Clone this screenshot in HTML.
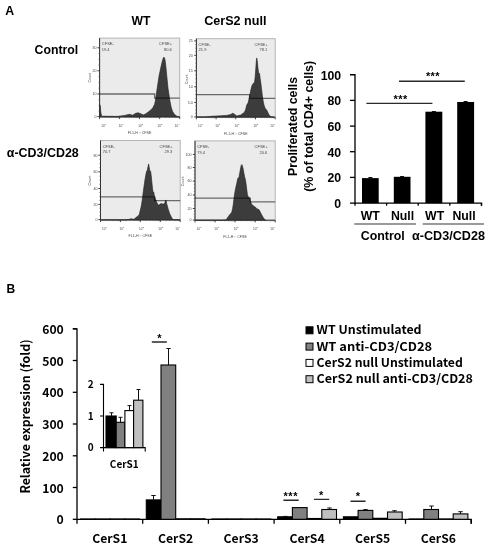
<!DOCTYPE html>
<html><head><meta charset="utf-8"><style>
html,body{margin:0;padding:0;background:#fff;}
svg{display:block;}
.a{font-family:"Liberation Sans", Arial, sans-serif;font-weight:bold;fill:#000;}
.k{font-family:"Noto Sans CJK KR", "Liberation Sans", sans-serif;font-weight:bold;fill:#000;}
.t{font-family:"Liberation Sans", Arial, sans-serif;fill:#444;}
</style></head><body>
<svg width="491" height="550" viewBox="0 0 491 550">
<text x="5.2" y="15.3" class="a" font-size="12.3">A</text>
<text x="141.1" y="24.9" class="a" font-size="12.2" text-anchor="middle">WT</text>
<text x="235.3" y="25.0" class="a" font-size="12.6" text-anchor="middle">CerS2 null</text>
<text x="34.5" y="54.4" class="a" font-size="12.3">Control</text>
<text x="6.8" y="157.1" class="a" font-size="12.45">α-CD3/CD28</text>
<rect x="99.6" y="38.1" width="80.1" height="78.8" fill="#ebebeb" stroke="#b4b4b4" stroke-width="1"/>
<path d="M99.6,116.9L99.6,104.3L100.3,106L100.8,112L101.6,116.2L117.3,116.4L124.5,115.4L129.5,114.3L132.6,115.2L135.7,113.3L138.2,112.8L140.8,113.8L143.3,114.9L145.8,113.8L147.64,112.42L150.19,110.51L152.74,107.96L154.65,104.14L155.29,100.96L157.2,88.22L159.11,75.48L161.02,66.56L161.91,62.74L163.18,58.28L163.95,57.01L164.84,58.92L165.48,62.74L166.75,75.48L168.03,88.22L169.94,100.96L171.21,107.32L172.48,111.15L174.39,114.33L176.94,116.24L179.49,117.13L179.49,116.9Z" fill="#3c3c3c" stroke="#222" stroke-width="0.6" stroke-linejoin="round"/>
<path d="M99.6,38.1 V116.9 H179.7" fill="none" stroke="#333" stroke-width="1"/>
<path d="M97.39999999999999,47.8H99.6" stroke="#333" stroke-width="0.9"/>
<text x="96.4" y="49.1" class="t" font-size="3.6" text-anchor="end">30</text>
<path d="M98.39999999999999,53.5H99.6" stroke="#555" stroke-width="0.6"/>
<path d="M98.39999999999999,59.3H99.6" stroke="#555" stroke-width="0.6"/>
<path d="M98.39999999999999,65.0H99.6" stroke="#555" stroke-width="0.6"/>
<path d="M97.39999999999999,70.8H99.6" stroke="#333" stroke-width="0.9"/>
<text x="96.4" y="72.1" class="t" font-size="3.6" text-anchor="end">20</text>
<path d="M98.39999999999999,76.6H99.6" stroke="#555" stroke-width="0.6"/>
<path d="M98.39999999999999,82.4H99.6" stroke="#555" stroke-width="0.6"/>
<path d="M98.39999999999999,88.2H99.6" stroke="#555" stroke-width="0.6"/>
<path d="M97.39999999999999,94.0H99.6" stroke="#333" stroke-width="0.9"/>
<text x="96.4" y="95.3" class="t" font-size="3.6" text-anchor="end">10</text>
<path d="M98.39999999999999,99.7H99.6" stroke="#555" stroke-width="0.6"/>
<path d="M98.39999999999999,105.3H99.6" stroke="#555" stroke-width="0.6"/>
<path d="M98.39999999999999,110.9H99.6" stroke="#555" stroke-width="0.6"/>
<path d="M97.39999999999999,116.6H99.6" stroke="#333" stroke-width="0.9"/>
<text x="96.4" y="117.9" class="t" font-size="3.6" text-anchor="end">0</text>
<path d="M99.6,116.9v2.2" stroke="#333" stroke-width="0.9"/>
<text x="103.6" y="126.5" class="t" font-size="3.1" text-anchor="middle">10<tspan dy="-1.4" font-size="2.4">0</tspan></text>
<path d="M105.6,116.9v1.2" stroke="#555" stroke-width="0.5"/>
<path d="M109.2,116.9v1.2" stroke="#555" stroke-width="0.5"/>
<path d="M111.7,116.9v1.2" stroke="#555" stroke-width="0.5"/>
<path d="M113.6,116.9v1.2" stroke="#555" stroke-width="0.5"/>
<path d="M115.2,116.9v1.2" stroke="#555" stroke-width="0.5"/>
<path d="M116.5,116.9v1.2" stroke="#555" stroke-width="0.5"/>
<path d="M117.7,116.9v1.2" stroke="#555" stroke-width="0.5"/>
<path d="M118.7,116.9v1.2" stroke="#555" stroke-width="0.5"/>
<path d="M119.6,116.9v2.2" stroke="#333" stroke-width="0.9"/>
<text x="121.2" y="126.5" class="t" font-size="3.1" text-anchor="middle">10<tspan dy="-1.4" font-size="2.4">1</tspan></text>
<path d="M125.7,116.9v1.2" stroke="#555" stroke-width="0.5"/>
<path d="M129.2,116.9v1.2" stroke="#555" stroke-width="0.5"/>
<path d="M131.7,116.9v1.2" stroke="#555" stroke-width="0.5"/>
<path d="M133.6,116.9v1.2" stroke="#555" stroke-width="0.5"/>
<path d="M135.2,116.9v1.2" stroke="#555" stroke-width="0.5"/>
<path d="M136.5,116.9v1.2" stroke="#555" stroke-width="0.5"/>
<path d="M137.7,116.9v1.2" stroke="#555" stroke-width="0.5"/>
<path d="M138.7,116.9v1.2" stroke="#555" stroke-width="0.5"/>
<path d="M139.6,116.9v2.2" stroke="#333" stroke-width="0.9"/>
<text x="140.7" y="126.5" class="t" font-size="3.1" text-anchor="middle">10<tspan dy="-1.4" font-size="2.4">2</tspan></text>
<path d="M145.7,116.9v1.2" stroke="#555" stroke-width="0.5"/>
<path d="M149.2,116.9v1.2" stroke="#555" stroke-width="0.5"/>
<path d="M151.7,116.9v1.2" stroke="#555" stroke-width="0.5"/>
<path d="M153.6,116.9v1.2" stroke="#555" stroke-width="0.5"/>
<path d="M155.2,116.9v1.2" stroke="#555" stroke-width="0.5"/>
<path d="M156.6,116.9v1.2" stroke="#555" stroke-width="0.5"/>
<path d="M157.7,116.9v1.2" stroke="#555" stroke-width="0.5"/>
<path d="M158.8,116.9v1.2" stroke="#555" stroke-width="0.5"/>
<path d="M159.7,116.9v2.2" stroke="#333" stroke-width="0.9"/>
<text x="160.0" y="126.5" class="t" font-size="3.1" text-anchor="middle">10<tspan dy="-1.4" font-size="2.4">3</tspan></text>
<path d="M165.7,116.9v1.2" stroke="#555" stroke-width="0.5"/>
<path d="M169.2,116.9v1.2" stroke="#555" stroke-width="0.5"/>
<path d="M171.7,116.9v1.2" stroke="#555" stroke-width="0.5"/>
<path d="M173.7,116.9v1.2" stroke="#555" stroke-width="0.5"/>
<path d="M175.3,116.9v1.2" stroke="#555" stroke-width="0.5"/>
<path d="M176.6,116.9v1.2" stroke="#555" stroke-width="0.5"/>
<path d="M177.8,116.9v1.2" stroke="#555" stroke-width="0.5"/>
<path d="M178.8,116.9v1.2" stroke="#555" stroke-width="0.5"/>
<path d="M179.7,116.9v2.2" stroke="#333" stroke-width="0.9"/>
<text x="177.1" y="126.5" class="t" font-size="3.1" text-anchor="middle">10<tspan dy="-1.4" font-size="2.4">4</tspan></text>
<text x="139.6" y="134.4" class="t" font-size="3.6" text-anchor="middle">FL1-H :: CFSE</text>
<text transform="translate(90.7,77.8) rotate(-90)" class="t" font-size="3.6" text-anchor="middle">Count</text>
<path d="M99.6,94.0H154.6V98.2H179.7" fill="none" stroke="#000" stroke-opacity="0.55" stroke-width="1.3"/>
<text x="101.8" y="45.2" class="t" font-size="4">CFSE-</text>
<text x="101.8" y="50.7" class="t" font-size="4">19.4</text>
<text x="172.1" y="45.2" class="t" font-size="4" text-anchor="end">CFSE+</text>
<text x="171.8" y="50.7" class="t" font-size="4" text-anchor="end">80.6</text>
<rect x="196.4" y="38.7" width="78.8" height="78.4" fill="#ebebeb" stroke="#b4b4b4" stroke-width="1"/>
<path d="M196.5,117.10000000000001L196.5,117.0L205,117.0L211.3,116.3L226.5,115.4L230.5,114.6L232.7,113.3L234.5,114.2L236.7,115.9L240.8,114.9L242.37,113.69L244.28,112.42L245.55,109.87L246.83,104.78L248.1,102.87L249.38,97.13L250.65,90.76L251.92,85.67L253.2,83.38L254.47,82.48L255.11,77.39L255.75,69.11L256.38,60.19L256.76,57.9L257.4,61.46L257.91,67.83L258.68,72.93L259.57,73.57L260.2,78.66L260.84,83.12L261.48,88.22L262.37,95.86L263.39,102.23L264.28,106.05L265.3,108.6L266.57,109.87L267.85,112.42L269.38,115.61L271.67,116.88L274.22,117.26L274.22,117.10000000000001Z" fill="#3c3c3c" stroke="#222" stroke-width="0.6" stroke-linejoin="round"/>
<path d="M196.4,38.7 V117.10000000000001 H275.2" fill="none" stroke="#333" stroke-width="1"/>
<path d="M194.20000000000002,40.9H196.4" stroke="#333" stroke-width="0.9"/>
<text x="192.8" y="42.2" class="t" font-size="3.6" text-anchor="end">25</text>
<path d="M195.20000000000002,44.5H196.4" stroke="#555" stroke-width="0.6"/>
<path d="M195.20000000000002,48.1H196.4" stroke="#555" stroke-width="0.6"/>
<path d="M195.20000000000002,51.7H196.4" stroke="#555" stroke-width="0.6"/>
<path d="M194.20000000000002,55.3H196.4" stroke="#333" stroke-width="0.9"/>
<text x="192.8" y="56.6" class="t" font-size="3.6" text-anchor="end">20</text>
<path d="M195.20000000000002,59.2H196.4" stroke="#555" stroke-width="0.6"/>
<path d="M195.20000000000002,63.0H196.4" stroke="#555" stroke-width="0.6"/>
<path d="M195.20000000000002,66.9H196.4" stroke="#555" stroke-width="0.6"/>
<path d="M194.20000000000002,70.8H196.4" stroke="#333" stroke-width="0.9"/>
<text x="192.8" y="72.1" class="t" font-size="3.6" text-anchor="end">15</text>
<path d="M195.20000000000002,74.8H196.4" stroke="#555" stroke-width="0.6"/>
<path d="M195.20000000000002,78.8H196.4" stroke="#555" stroke-width="0.6"/>
<path d="M195.20000000000002,82.8H196.4" stroke="#555" stroke-width="0.6"/>
<path d="M194.20000000000002,86.8H196.4" stroke="#333" stroke-width="0.9"/>
<text x="192.8" y="88.1" class="t" font-size="3.6" text-anchor="end">10</text>
<path d="M195.20000000000002,90.7H196.4" stroke="#555" stroke-width="0.6"/>
<path d="M195.20000000000002,94.6H196.4" stroke="#555" stroke-width="0.6"/>
<path d="M195.20000000000002,98.5H196.4" stroke="#555" stroke-width="0.6"/>
<path d="M194.20000000000002,102.4H196.4" stroke="#333" stroke-width="0.9"/>
<text x="192.8" y="103.7" class="t" font-size="3.6" text-anchor="end">5.0</text>
<path d="M195.20000000000002,106.0H196.4" stroke="#555" stroke-width="0.6"/>
<path d="M195.20000000000002,109.7H196.4" stroke="#555" stroke-width="0.6"/>
<path d="M195.20000000000002,113.3H196.4" stroke="#555" stroke-width="0.6"/>
<path d="M194.20000000000002,116.9H196.4" stroke="#333" stroke-width="0.9"/>
<text x="192.8" y="118.2" class="t" font-size="3.6" text-anchor="end">0</text>
<path d="M196.4,117.10000000000001v2.2" stroke="#333" stroke-width="0.9"/>
<text x="200.4" y="126.7" class="t" font-size="3.1" text-anchor="middle">10<tspan dy="-1.4" font-size="2.4">0</tspan></text>
<path d="M202.3,117.10000000000001v1.2" stroke="#555" stroke-width="0.5"/>
<path d="M205.8,117.10000000000001v1.2" stroke="#555" stroke-width="0.5"/>
<path d="M208.3,117.10000000000001v1.2" stroke="#555" stroke-width="0.5"/>
<path d="M210.2,117.10000000000001v1.2" stroke="#555" stroke-width="0.5"/>
<path d="M211.7,117.10000000000001v1.2" stroke="#555" stroke-width="0.5"/>
<path d="M213.0,117.10000000000001v1.2" stroke="#555" stroke-width="0.5"/>
<path d="M214.2,117.10000000000001v1.2" stroke="#555" stroke-width="0.5"/>
<path d="M215.2,117.10000000000001v1.2" stroke="#555" stroke-width="0.5"/>
<path d="M216.1,117.10000000000001v2.2" stroke="#333" stroke-width="0.9"/>
<text x="217.7" y="126.7" class="t" font-size="3.1" text-anchor="middle">10<tspan dy="-1.4" font-size="2.4">1</tspan></text>
<path d="M222.0,117.10000000000001v1.2" stroke="#555" stroke-width="0.5"/>
<path d="M225.5,117.10000000000001v1.2" stroke="#555" stroke-width="0.5"/>
<path d="M228.0,117.10000000000001v1.2" stroke="#555" stroke-width="0.5"/>
<path d="M229.9,117.10000000000001v1.2" stroke="#555" stroke-width="0.5"/>
<path d="M231.4,117.10000000000001v1.2" stroke="#555" stroke-width="0.5"/>
<path d="M232.7,117.10000000000001v1.2" stroke="#555" stroke-width="0.5"/>
<path d="M233.9,117.10000000000001v1.2" stroke="#555" stroke-width="0.5"/>
<path d="M234.9,117.10000000000001v1.2" stroke="#555" stroke-width="0.5"/>
<path d="M235.8,117.10000000000001v2.2" stroke="#333" stroke-width="0.9"/>
<text x="236.9" y="126.7" class="t" font-size="3.1" text-anchor="middle">10<tspan dy="-1.4" font-size="2.4">2</tspan></text>
<path d="M241.7,117.10000000000001v1.2" stroke="#555" stroke-width="0.5"/>
<path d="M245.2,117.10000000000001v1.2" stroke="#555" stroke-width="0.5"/>
<path d="M247.7,117.10000000000001v1.2" stroke="#555" stroke-width="0.5"/>
<path d="M249.6,117.10000000000001v1.2" stroke="#555" stroke-width="0.5"/>
<path d="M251.1,117.10000000000001v1.2" stroke="#555" stroke-width="0.5"/>
<path d="M252.4,117.10000000000001v1.2" stroke="#555" stroke-width="0.5"/>
<path d="M253.6,117.10000000000001v1.2" stroke="#555" stroke-width="0.5"/>
<path d="M254.6,117.10000000000001v1.2" stroke="#555" stroke-width="0.5"/>
<path d="M255.5,117.10000000000001v2.2" stroke="#333" stroke-width="0.9"/>
<text x="255.8" y="126.7" class="t" font-size="3.1" text-anchor="middle">10<tspan dy="-1.4" font-size="2.4">3</tspan></text>
<path d="M261.4,117.10000000000001v1.2" stroke="#555" stroke-width="0.5"/>
<path d="M264.9,117.10000000000001v1.2" stroke="#555" stroke-width="0.5"/>
<path d="M267.4,117.10000000000001v1.2" stroke="#555" stroke-width="0.5"/>
<path d="M269.3,117.10000000000001v1.2" stroke="#555" stroke-width="0.5"/>
<path d="M270.8,117.10000000000001v1.2" stroke="#555" stroke-width="0.5"/>
<path d="M272.1,117.10000000000001v1.2" stroke="#555" stroke-width="0.5"/>
<path d="M273.3,117.10000000000001v1.2" stroke="#555" stroke-width="0.5"/>
<path d="M274.3,117.10000000000001v1.2" stroke="#555" stroke-width="0.5"/>
<path d="M275.2,117.10000000000001v2.2" stroke="#333" stroke-width="0.9"/>
<text x="272.6" y="126.7" class="t" font-size="3.1" text-anchor="middle">10<tspan dy="-1.4" font-size="2.4">4</tspan></text>
<text x="235.8" y="134.6" class="t" font-size="3.6" text-anchor="middle">FL1-H :: CFSE</text>
<text transform="translate(187.5,79.4) rotate(-90)" class="t" font-size="3.6" text-anchor="middle">Count</text>
<path d="M196.4,94.6H249.6V98.4H275.2" fill="none" stroke="#000" stroke-opacity="0.55" stroke-width="1.3"/>
<text x="198.6" y="45.8" class="t" font-size="4">CFSE-</text>
<text x="198.6" y="51.3" class="t" font-size="4">21.9</text>
<text x="267.6" y="45.8" class="t" font-size="4" text-anchor="end">CFSE+</text>
<text x="267.3" y="51.3" class="t" font-size="4" text-anchor="end">78.1</text>
<rect x="100.5" y="140.5" width="79.7" height="79.4" fill="#ebebeb" stroke="#b4b4b4" stroke-width="1"/>
<path d="M100.5,219.9L100.5,220.0L125,220.0L128,219.6L131,218.8L134.0,219.33L135.91,217.42L137.82,216.15L139.1,214.87L140.11,211.05L141.01,207.23L141.9,202.13L142.92,194.49L143.94,186.85L144.83,180.48L145.72,175.38L146.48,171.56L147.38,170.03L148.01,166.46L148.65,163.92L149.29,167.74L149.92,171.56L150.56,170.92L151.2,175.38L151.83,181.75L152.47,188.12L153.11,192.58L153.75,191.94L154.38,195.76L155.02,197.68L155.66,199.59L156.68,202.13L157.57,204.04L158.84,205.32L160.11,204.04L161.39,203.41L162.66,204.04L163.94,204.04L164.83,202.77L165.59,200.22L166.1,200.22L166.61,203.41L167.38,205.96L168.39,209.78L169.67,213.6L170.94,216.15L172.22,218.69L174.0,219.97L177.5,219.7L180.2,219.9L180.2,219.9Z" fill="#3c3c3c" stroke="#222" stroke-width="0.6" stroke-linejoin="round"/>
<path d="M100.5,140.5 V219.9 H180.2" fill="none" stroke="#333" stroke-width="1"/>
<path d="M98.3,155.2H100.5" stroke="#333" stroke-width="0.9"/>
<text x="97.6" y="156.5" class="t" font-size="3.6" text-anchor="end">80</text>
<path d="M99.3,159.4H100.5" stroke="#555" stroke-width="0.6"/>
<path d="M99.3,163.6H100.5" stroke="#555" stroke-width="0.6"/>
<path d="M99.3,167.7H100.5" stroke="#555" stroke-width="0.6"/>
<path d="M98.3,171.9H100.5" stroke="#333" stroke-width="0.9"/>
<text x="97.6" y="173.2" class="t" font-size="3.6" text-anchor="end">60</text>
<path d="M99.3,176.1H100.5" stroke="#555" stroke-width="0.6"/>
<path d="M99.3,180.2H100.5" stroke="#555" stroke-width="0.6"/>
<path d="M99.3,184.3H100.5" stroke="#555" stroke-width="0.6"/>
<path d="M98.3,188.5H100.5" stroke="#333" stroke-width="0.9"/>
<text x="97.6" y="189.8" class="t" font-size="3.6" text-anchor="end">40</text>
<path d="M99.3,192.5H100.5" stroke="#555" stroke-width="0.6"/>
<path d="M99.3,196.4H100.5" stroke="#555" stroke-width="0.6"/>
<path d="M99.3,200.4H100.5" stroke="#555" stroke-width="0.6"/>
<path d="M98.3,204.4H100.5" stroke="#333" stroke-width="0.9"/>
<text x="97.6" y="205.7" class="t" font-size="3.6" text-anchor="end">20</text>
<path d="M99.3,208.2H100.5" stroke="#555" stroke-width="0.6"/>
<path d="M99.3,212.0H100.5" stroke="#555" stroke-width="0.6"/>
<path d="M99.3,215.8H100.5" stroke="#555" stroke-width="0.6"/>
<path d="M98.3,219.6H100.5" stroke="#333" stroke-width="0.9"/>
<text x="97.6" y="220.9" class="t" font-size="3.6" text-anchor="end">0</text>
<path d="M100.5,219.9v2.2" stroke="#333" stroke-width="0.9"/>
<text x="104.5" y="229.5" class="t" font-size="3.1" text-anchor="middle">10<tspan dy="-1.4" font-size="2.4">0</tspan></text>
<path d="M106.5,219.9v1.2" stroke="#555" stroke-width="0.5"/>
<path d="M110.0,219.9v1.2" stroke="#555" stroke-width="0.5"/>
<path d="M112.5,219.9v1.2" stroke="#555" stroke-width="0.5"/>
<path d="M114.4,219.9v1.2" stroke="#555" stroke-width="0.5"/>
<path d="M116.0,219.9v1.2" stroke="#555" stroke-width="0.5"/>
<path d="M117.3,219.9v1.2" stroke="#555" stroke-width="0.5"/>
<path d="M118.5,219.9v1.2" stroke="#555" stroke-width="0.5"/>
<path d="M119.5,219.9v1.2" stroke="#555" stroke-width="0.5"/>
<path d="M120.4,219.9v2.2" stroke="#333" stroke-width="0.9"/>
<text x="122.0" y="229.5" class="t" font-size="3.1" text-anchor="middle">10<tspan dy="-1.4" font-size="2.4">1</tspan></text>
<path d="M126.4,219.9v1.2" stroke="#555" stroke-width="0.5"/>
<path d="M129.9,219.9v1.2" stroke="#555" stroke-width="0.5"/>
<path d="M132.4,219.9v1.2" stroke="#555" stroke-width="0.5"/>
<path d="M134.4,219.9v1.2" stroke="#555" stroke-width="0.5"/>
<path d="M135.9,219.9v1.2" stroke="#555" stroke-width="0.5"/>
<path d="M137.3,219.9v1.2" stroke="#555" stroke-width="0.5"/>
<path d="M138.4,219.9v1.2" stroke="#555" stroke-width="0.5"/>
<path d="M139.4,219.9v1.2" stroke="#555" stroke-width="0.5"/>
<path d="M140.3,219.9v2.2" stroke="#333" stroke-width="0.9"/>
<text x="141.4" y="229.5" class="t" font-size="3.1" text-anchor="middle">10<tspan dy="-1.4" font-size="2.4">2</tspan></text>
<path d="M146.3,219.9v1.2" stroke="#555" stroke-width="0.5"/>
<path d="M149.9,219.9v1.2" stroke="#555" stroke-width="0.5"/>
<path d="M152.3,219.9v1.2" stroke="#555" stroke-width="0.5"/>
<path d="M154.3,219.9v1.2" stroke="#555" stroke-width="0.5"/>
<path d="M155.9,219.9v1.2" stroke="#555" stroke-width="0.5"/>
<path d="M157.2,219.9v1.2" stroke="#555" stroke-width="0.5"/>
<path d="M158.3,219.9v1.2" stroke="#555" stroke-width="0.5"/>
<path d="M159.4,219.9v1.2" stroke="#555" stroke-width="0.5"/>
<path d="M160.3,219.9v2.2" stroke="#333" stroke-width="0.9"/>
<text x="160.6" y="229.5" class="t" font-size="3.1" text-anchor="middle">10<tspan dy="-1.4" font-size="2.4">3</tspan></text>
<path d="M166.3,219.9v1.2" stroke="#555" stroke-width="0.5"/>
<path d="M169.8,219.9v1.2" stroke="#555" stroke-width="0.5"/>
<path d="M172.3,219.9v1.2" stroke="#555" stroke-width="0.5"/>
<path d="M174.2,219.9v1.2" stroke="#555" stroke-width="0.5"/>
<path d="M175.8,219.9v1.2" stroke="#555" stroke-width="0.5"/>
<path d="M177.1,219.9v1.2" stroke="#555" stroke-width="0.5"/>
<path d="M178.3,219.9v1.2" stroke="#555" stroke-width="0.5"/>
<path d="M179.3,219.9v1.2" stroke="#555" stroke-width="0.5"/>
<path d="M180.2,219.9v2.2" stroke="#333" stroke-width="0.9"/>
<text x="177.6" y="229.5" class="t" font-size="3.1" text-anchor="middle">10<tspan dy="-1.4" font-size="2.4">4</tspan></text>
<text x="140.3" y="237.4" class="t" font-size="3.6" text-anchor="middle">FL1-H :: CFSE</text>
<text transform="translate(91.2,180.6) rotate(-90)" class="t" font-size="3.6" text-anchor="middle">Count</text>
<path d="M100.5,196.8H154.6V200.7H180.2" fill="none" stroke="#000" stroke-opacity="0.55" stroke-width="1.3"/>
<text x="102.7" y="147.6" class="t" font-size="4">CFSE-</text>
<text x="102.7" y="153.1" class="t" font-size="4">70.7</text>
<text x="172.6" y="147.6" class="t" font-size="4" text-anchor="end">CFSE+</text>
<text x="172.3" y="153.1" class="t" font-size="4" text-anchor="end">29.3</text>
<rect x="195.0" y="140.9" width="80.2" height="79.3" fill="#ebebeb" stroke="#b4b4b4" stroke-width="1"/>
<path d="M195.2,220.2L195.2,220.3L223,220.3L224.5,220.0L226.0,219.97L227.27,218.06L228.55,216.15L230.46,213.85L231.73,212.32L232.62,208.5L233.39,203.41L234.15,197.04L234.92,191.94L235.94,186.85L236.83,183.03L237.72,178.57L238.36,177.68L238.99,177.29L239.76,172.83L240.65,167.74L241.29,165.19L241.92,164.55L242.56,166.46L243.2,169.01L243.83,172.83L244.85,177.93L245.36,179.2L246.13,184.3L246.76,189.39L247.4,194.49L248.29,197.04L249.57,197.68L250.2,200.22L250.84,202.13L251.48,204.04L252.75,205.32L254.28,206.59L255.55,207.23L256.57,208.5L257.85,209.14L259.12,209.78L260.39,212.32L261.67,214.87L263.2,217.42L264.85,219.71L266.0,220.61L266.0,220.2Z" fill="#3c3c3c" stroke="#222" stroke-width="0.6" stroke-linejoin="round"/>
<path d="M195.0,140.9 V220.2 H275.2" fill="none" stroke="#333" stroke-width="1"/>
<path d="M192.8,154.4H195.0" stroke="#333" stroke-width="0.9"/>
<text x="191.4" y="155.7" class="t" font-size="3.6" text-anchor="end">100</text>
<path d="M193.8,157.7H195.0" stroke="#555" stroke-width="0.6"/>
<path d="M193.8,160.9H195.0" stroke="#555" stroke-width="0.6"/>
<path d="M193.8,164.2H195.0" stroke="#555" stroke-width="0.6"/>
<path d="M192.8,167.5H195.0" stroke="#333" stroke-width="0.9"/>
<text x="191.4" y="168.8" class="t" font-size="3.6" text-anchor="end">80</text>
<path d="M193.8,170.9H195.0" stroke="#555" stroke-width="0.6"/>
<path d="M193.8,174.3H195.0" stroke="#555" stroke-width="0.6"/>
<path d="M193.8,177.7H195.0" stroke="#555" stroke-width="0.6"/>
<path d="M192.8,181.1H195.0" stroke="#333" stroke-width="0.9"/>
<text x="191.4" y="182.4" class="t" font-size="3.6" text-anchor="end">60</text>
<path d="M193.8,184.6H195.0" stroke="#555" stroke-width="0.6"/>
<path d="M193.8,188.1H195.0" stroke="#555" stroke-width="0.6"/>
<path d="M193.8,191.5H195.0" stroke="#555" stroke-width="0.6"/>
<path d="M192.8,195.0H195.0" stroke="#333" stroke-width="0.9"/>
<text x="191.4" y="196.3" class="t" font-size="3.6" text-anchor="end">40</text>
<path d="M193.8,198.4H195.0" stroke="#555" stroke-width="0.6"/>
<path d="M193.8,201.8H195.0" stroke="#555" stroke-width="0.6"/>
<path d="M193.8,205.1H195.0" stroke="#555" stroke-width="0.6"/>
<path d="M192.8,208.5H195.0" stroke="#333" stroke-width="0.9"/>
<text x="191.4" y="209.8" class="t" font-size="3.6" text-anchor="end">20</text>
<path d="M193.8,211.4H195.0" stroke="#555" stroke-width="0.6"/>
<path d="M193.8,214.2H195.0" stroke="#555" stroke-width="0.6"/>
<path d="M193.8,217.1H195.0" stroke="#555" stroke-width="0.6"/>
<path d="M192.8,220.0H195.0" stroke="#333" stroke-width="0.9"/>
<text x="191.4" y="221.3" class="t" font-size="3.6" text-anchor="end">0</text>
<path d="M195.0,220.2v2.2" stroke="#333" stroke-width="0.9"/>
<text x="199.0" y="229.8" class="t" font-size="3.1" text-anchor="middle">10<tspan dy="-1.4" font-size="2.4">0</tspan></text>
<path d="M201.0,220.2v1.2" stroke="#555" stroke-width="0.5"/>
<path d="M204.6,220.2v1.2" stroke="#555" stroke-width="0.5"/>
<path d="M207.1,220.2v1.2" stroke="#555" stroke-width="0.5"/>
<path d="M209.0,220.2v1.2" stroke="#555" stroke-width="0.5"/>
<path d="M210.6,220.2v1.2" stroke="#555" stroke-width="0.5"/>
<path d="M211.9,220.2v1.2" stroke="#555" stroke-width="0.5"/>
<path d="M213.1,220.2v1.2" stroke="#555" stroke-width="0.5"/>
<path d="M214.1,220.2v1.2" stroke="#555" stroke-width="0.5"/>
<path d="M215.1,220.2v2.2" stroke="#333" stroke-width="0.9"/>
<text x="216.7" y="229.8" class="t" font-size="3.1" text-anchor="middle">10<tspan dy="-1.4" font-size="2.4">1</tspan></text>
<path d="M221.1,220.2v1.2" stroke="#555" stroke-width="0.5"/>
<path d="M224.6,220.2v1.2" stroke="#555" stroke-width="0.5"/>
<path d="M227.1,220.2v1.2" stroke="#555" stroke-width="0.5"/>
<path d="M229.1,220.2v1.2" stroke="#555" stroke-width="0.5"/>
<path d="M230.7,220.2v1.2" stroke="#555" stroke-width="0.5"/>
<path d="M232.0,220.2v1.2" stroke="#555" stroke-width="0.5"/>
<path d="M233.2,220.2v1.2" stroke="#555" stroke-width="0.5"/>
<path d="M234.2,220.2v1.2" stroke="#555" stroke-width="0.5"/>
<path d="M235.1,220.2v2.2" stroke="#333" stroke-width="0.9"/>
<text x="236.2" y="229.8" class="t" font-size="3.1" text-anchor="middle">10<tspan dy="-1.4" font-size="2.4">2</tspan></text>
<path d="M241.1,220.2v1.2" stroke="#555" stroke-width="0.5"/>
<path d="M244.7,220.2v1.2" stroke="#555" stroke-width="0.5"/>
<path d="M247.2,220.2v1.2" stroke="#555" stroke-width="0.5"/>
<path d="M249.1,220.2v1.2" stroke="#555" stroke-width="0.5"/>
<path d="M250.7,220.2v1.2" stroke="#555" stroke-width="0.5"/>
<path d="M252.0,220.2v1.2" stroke="#555" stroke-width="0.5"/>
<path d="M253.2,220.2v1.2" stroke="#555" stroke-width="0.5"/>
<path d="M254.2,220.2v1.2" stroke="#555" stroke-width="0.5"/>
<path d="M255.2,220.2v2.2" stroke="#333" stroke-width="0.9"/>
<text x="255.5" y="229.8" class="t" font-size="3.1" text-anchor="middle">10<tspan dy="-1.4" font-size="2.4">3</tspan></text>
<path d="M261.2,220.2v1.2" stroke="#555" stroke-width="0.5"/>
<path d="M264.7,220.2v1.2" stroke="#555" stroke-width="0.5"/>
<path d="M267.2,220.2v1.2" stroke="#555" stroke-width="0.5"/>
<path d="M269.2,220.2v1.2" stroke="#555" stroke-width="0.5"/>
<path d="M270.8,220.2v1.2" stroke="#555" stroke-width="0.5"/>
<path d="M272.1,220.2v1.2" stroke="#555" stroke-width="0.5"/>
<path d="M273.3,220.2v1.2" stroke="#555" stroke-width="0.5"/>
<path d="M274.3,220.2v1.2" stroke="#555" stroke-width="0.5"/>
<path d="M275.2,220.2v2.2" stroke="#333" stroke-width="0.9"/>
<text x="272.6" y="229.8" class="t" font-size="3.1" text-anchor="middle">10<tspan dy="-1.4" font-size="2.4">4</tspan></text>
<text x="235.1" y="237.7" class="t" font-size="3.6" text-anchor="middle">FL1-H :: CFSE</text>
<text transform="translate(183.7,181.4) rotate(-90)" class="t" font-size="3.6" text-anchor="middle">Count</text>
<path d="M195.0,198.1H250.2V201.9H275.2" fill="none" stroke="#000" stroke-opacity="0.55" stroke-width="1.3"/>
<text x="197.2" y="148.0" class="t" font-size="4">CFSE-</text>
<text x="197.2" y="153.5" class="t" font-size="4">79.4</text>
<text x="267.6" y="148.0" class="t" font-size="4" text-anchor="end">CFSE+</text>
<text x="267.3" y="153.5" class="t" font-size="4" text-anchor="end">20.6</text>
<path d="M350.0,74.7H355.0V203.1H481.5v2.6" fill="none" stroke="#000" stroke-width="1.3"/>
<path d="M350.0,203.1H355.0" stroke="#000" stroke-width="1.3"/>
<text x="341.2" y="208.1" class="a" font-size="12.3" text-anchor="end">0</text>
<path d="M350.0,177.4H355.0" stroke="#000" stroke-width="1.3"/>
<text x="341.2" y="182.4" class="a" font-size="12.3" text-anchor="end">20</text>
<path d="M350.0,151.7H355.0" stroke="#000" stroke-width="1.3"/>
<text x="341.2" y="156.7" class="a" font-size="12.3" text-anchor="end">40</text>
<path d="M350.0,126.1H355.0" stroke="#000" stroke-width="1.3"/>
<text x="341.2" y="131.1" class="a" font-size="12.3" text-anchor="end">60</text>
<path d="M350.0,100.4H355.0" stroke="#000" stroke-width="1.3"/>
<text x="341.2" y="105.4" class="a" font-size="12.3" text-anchor="end">80</text>
<path d="M350.0,74.7H355.0" stroke="#000" stroke-width="1.3"/>
<text x="341.2" y="79.7" class="a" font-size="12.3" text-anchor="end">100</text>
<path d="M355,203.1v2.6" stroke="#000" stroke-width="1.3"/>
<path d="M386.6,203.1v2.6" stroke="#000" stroke-width="1.3"/>
<path d="M418.2,203.1v2.6" stroke="#000" stroke-width="1.3"/>
<path d="M449.8,203.1v2.6" stroke="#000" stroke-width="1.3"/>
<path d="M481.5,203.1v2.6" stroke="#000" stroke-width="1.3"/>
<rect x="362.0" y="178.1" width="16.7" height="25.0" fill="#000"/>
<path d="M368.4,177.5h4" stroke="#111" stroke-width="1"/>
<rect x="393.8" y="176.8" width="16.7" height="26.3" fill="#000"/>
<path d="M400.1,176.5h4" stroke="#111" stroke-width="1"/>
<rect x="425.4" y="111.7" width="16.9" height="91.4" fill="#000"/>
<path d="M431.9,111.5h4" stroke="#111" stroke-width="1"/>
<rect x="457.2" y="102.0" width="16.9" height="101.1" fill="#000"/>
<path d="M463.6,101.5h4" stroke="#111" stroke-width="1"/>
<path d="M366.4,103.4H432.4M399,81.2H464.8" stroke="#2a2a2a" stroke-width="1.35"/>
<text x="400.6" y="103.1" class="a" font-size="11" letter-spacing="0.4" text-anchor="middle">***</text>
<text x="432.9" y="80.2" class="a" font-size="11" letter-spacing="0.4" text-anchor="middle">***</text>
<text x="370.3" y="220.0" class="a" font-size="12.3" text-anchor="middle">WT</text>
<text x="402.6" y="220.0" class="a" font-size="12.3" text-anchor="middle">Null</text>
<text x="434.6" y="220.0" class="a" font-size="12.3" text-anchor="middle">WT</text>
<text x="464.1" y="220.0" class="a" font-size="12.3" text-anchor="middle">Null</text>
<path d="M354.3,224H416M422.6,224H484" stroke="#7a7a7a" stroke-width="1.5"/>
<text x="382.8" y="240.3" class="a" font-size="12.4" text-anchor="middle">Control</text>
<text x="448.5" y="240.3" class="a" font-size="12.6" text-anchor="middle">α-CD3/CD28</text>
<text transform="translate(297.2,126.5) rotate(-90)" class="a" font-size="12.3" text-anchor="middle">Proliferated cells</text>
<text transform="translate(313.3,126.3) rotate(-90)" class="a" font-size="12.45" text-anchor="middle">(% of total CD4+ cells)</text>
<text x="6.5" y="292.6" class="a" font-size="12">B</text>
<path d="M72.8,328.8H77.0V519.3H471.2v4.5" fill="none" stroke="#000" stroke-width="1.3"/>
<path d="M72.8,519.3H77.0" stroke="#000" stroke-width="1.3"/>
<text x="63.8" y="524.4" class="k" font-size="12.2" text-anchor="end">0</text>
<path d="M72.8,487.5H77.0" stroke="#000" stroke-width="1.3"/>
<text x="63.8" y="492.6" class="k" font-size="12.2" text-anchor="end">100</text>
<path d="M72.8,455.8H77.0" stroke="#000" stroke-width="1.3"/>
<text x="63.8" y="460.9" class="k" font-size="12.2" text-anchor="end">200</text>
<path d="M72.8,424.0H77.0" stroke="#000" stroke-width="1.3"/>
<text x="63.8" y="429.1" class="k" font-size="12.2" text-anchor="end">300</text>
<path d="M72.8,392.3H77.0" stroke="#000" stroke-width="1.3"/>
<text x="63.8" y="397.4" class="k" font-size="12.2" text-anchor="end">400</text>
<path d="M72.8,360.5H77.0" stroke="#000" stroke-width="1.3"/>
<text x="63.8" y="365.6" class="k" font-size="12.2" text-anchor="end">500</text>
<path d="M72.8,328.8H77.0" stroke="#000" stroke-width="1.3"/>
<text x="63.8" y="333.9" class="k" font-size="12.2" text-anchor="end">600</text>
<path d="M77.0,519.3v4.5" stroke="#000" stroke-width="1.3"/>
<path d="M142.7,519.3v4.5" stroke="#000" stroke-width="1.3"/>
<path d="M208.4,519.3v4.5" stroke="#000" stroke-width="1.3"/>
<path d="M274.1,519.3v4.5" stroke="#000" stroke-width="1.3"/>
<path d="M339.8,519.3v4.5" stroke="#000" stroke-width="1.3"/>
<path d="M405.5,519.3v4.5" stroke="#000" stroke-width="1.3"/>
<path d="M471.2,519.3v4.5" stroke="#000" stroke-width="1.3"/>
<rect x="80.6" y="519.0" width="14.7" height="0.3" fill="#000" stroke="#000" stroke-width="1.1"/>
<rect x="95.3" y="519.0" width="14.7" height="0.3" fill="#808080" stroke="#000" stroke-width="1.1"/>
<rect x="110.0" y="519.0" width="14.7" height="0.3" fill="#fff" stroke="#000" stroke-width="1.1"/>
<rect x="124.7" y="519.0" width="14.7" height="0.3" fill="#c0c0c0" stroke="#000" stroke-width="1.1"/>
<rect x="146.3" y="499.9" width="14.7" height="19.4" fill="#000" stroke="#000" stroke-width="1.1"/>
<path d="M153.5,499.9V495.5M151.3,495.5h4.4" stroke="#111" stroke-width="1"/>
<rect x="161.0" y="365.0" width="14.7" height="154.3" fill="#808080" stroke="#000" stroke-width="1.1"/>
<path d="M168.5,365.0V348.5M166.3,348.5h4.4" stroke="#111" stroke-width="1"/>
<rect x="175.7" y="518.8" width="14.7" height="0.5" fill="#fff" stroke="#000" stroke-width="1.1"/>
<rect x="190.4" y="518.8" width="14.7" height="0.5" fill="#c0c0c0" stroke="#000" stroke-width="1.1"/>
<rect x="212.0" y="519.0" width="14.7" height="0.3" fill="#000" stroke="#000" stroke-width="1.1"/>
<rect x="226.7" y="519.0" width="14.7" height="0.3" fill="#808080" stroke="#000" stroke-width="1.1"/>
<rect x="241.4" y="519.0" width="14.7" height="0.3" fill="#fff" stroke="#000" stroke-width="1.1"/>
<rect x="256.1" y="519.0" width="14.7" height="0.3" fill="#c0c0c0" stroke="#000" stroke-width="1.1"/>
<rect x="277.7" y="516.8" width="14.7" height="2.5" fill="#000" stroke="#000" stroke-width="1.1"/>
<path d="M285.5,516.8V516.4M283.3,516.4h4.4" stroke="#111" stroke-width="1"/>
<rect x="292.4" y="507.6" width="14.7" height="11.7" fill="#808080" stroke="#000" stroke-width="1.1"/>
<rect x="307.1" y="518.5" width="14.7" height="0.8" fill="#fff" stroke="#000" stroke-width="1.1"/>
<rect x="321.8" y="509.5" width="14.7" height="9.8" fill="#c0c0c0" stroke="#000" stroke-width="1.1"/>
<path d="M329.5,509.5V508.0M327.3,508.0h4.4" stroke="#111" stroke-width="1"/>
<rect x="343.4" y="516.8" width="14.7" height="2.5" fill="#000" stroke="#000" stroke-width="1.1"/>
<rect x="358.1" y="510.4" width="14.7" height="8.9" fill="#808080" stroke="#000" stroke-width="1.1"/>
<path d="M365.5,510.4V509.6M363.3,509.6h4.4" stroke="#111" stroke-width="1"/>
<rect x="372.8" y="518.3" width="14.7" height="1.0" fill="#fff" stroke="#000" stroke-width="1.1"/>
<rect x="387.5" y="512.0" width="14.7" height="7.3" fill="#c0c0c0" stroke="#000" stroke-width="1.1"/>
<path d="M394.5,512.0V510.7M392.3,510.7h4.4" stroke="#111" stroke-width="1"/>
<rect x="409.1" y="519.0" width="14.7" height="0.3" fill="#000" stroke="#000" stroke-width="1.1"/>
<rect x="423.8" y="509.5" width="14.7" height="9.8" fill="#808080" stroke="#000" stroke-width="1.1"/>
<path d="M431.5,509.5V506.0M429.3,506.0h4.4" stroke="#111" stroke-width="1"/>
<rect x="438.5" y="519.0" width="14.7" height="0.3" fill="#fff" stroke="#000" stroke-width="1.1"/>
<rect x="453.2" y="513.9" width="14.7" height="5.4" fill="#c0c0c0" stroke="#000" stroke-width="1.1"/>
<path d="M460.5,513.9V511.7M458.3,511.7h4.4" stroke="#111" stroke-width="1"/>
<path d="M151.8,342H166.8M283.4,500.2H298.7M314,499.4H329.2M350.5,501.2H365.6" stroke="#2a2a2a" stroke-width="1.35"/>
<text x="159.3" y="341.5" class="a" font-size="11" text-anchor="middle">*</text>
<text x="290.8" y="499.6" class="a" font-size="11" letter-spacing="0.6" text-anchor="middle">***</text>
<text x="321.1" y="498.7" class="a" font-size="11" text-anchor="middle">*</text>
<text x="357.8" y="500.2" class="a" font-size="11" text-anchor="middle">*</text>
<text x="109.8" y="543.2" class="k" font-size="12.2" text-anchor="middle">CerS1</text>
<text x="175.6" y="543.2" class="k" font-size="12.2" text-anchor="middle">CerS2</text>
<text x="241.2" y="543.2" class="k" font-size="12.2" text-anchor="middle">CerS3</text>
<text x="307.0" y="543.2" class="k" font-size="12.2" text-anchor="middle">CerS4</text>
<text x="372.6" y="543.2" class="k" font-size="12.2" text-anchor="middle">CerS5</text>
<text x="438.4" y="543.2" class="k" font-size="12.2" text-anchor="middle">CerS6</text>
<text transform="translate(30,416.4) rotate(-90)" class="k" font-size="12.35" text-anchor="middle">Relative expression (fold)</text>
<path d="M100.0,384.4H103.5V447.6M100.0,416.0H103.5M100.0,447.6H145.2v3.8M103.5,447.6v3.8" fill="none" stroke="#000" stroke-width="1.1"/>
<text x="93.6" y="451.3" class="k" font-size="10" text-anchor="end">0</text>
<text x="93.6" y="419.7" class="k" font-size="10" text-anchor="end">1</text>
<text x="93.6" y="388.1" class="k" font-size="10" text-anchor="end">2</text>
<rect x="106.0" y="416.0" width="10.2" height="31.6" fill="#000" stroke="#000" stroke-width="1.1"/>
<path d="M111.5,416.0V412.8M109.5,412.8h4" stroke="#111" stroke-width="1"/>
<rect x="116.2" y="422.3" width="8.7" height="25.3" fill="#808080" stroke="#000" stroke-width="1.1"/>
<path d="M120.5,422.3V417.3M118.5,417.3h4" stroke="#111" stroke-width="1"/>
<rect x="124.9" y="410.6" width="8.7" height="37.0" fill="#fff" stroke="#000" stroke-width="1.1"/>
<path d="M129.5,410.6V405.6M127.5,405.6h4" stroke="#111" stroke-width="1"/>
<rect x="133.6" y="400.2" width="9.3" height="47.4" fill="#c0c0c0" stroke="#000" stroke-width="1.1"/>
<path d="M138.5,400.2V389.5M136.5,389.5h4" stroke="#111" stroke-width="1"/>
<text x="124.3" y="467.8" class="k" font-size="10" text-anchor="middle">CerS1</text>
<rect x="306" y="326.8" width="7" height="7" fill="#000" stroke="#000" stroke-width="1"/>
<text x="316.6" y="334.4" class="k" font-size="12.2" textLength="105.0" lengthAdjust="spacingAndGlyphs">WT Unstimulated</text>
<rect x="306" y="343.1" width="7" height="7" fill="#808080" stroke="#000" stroke-width="1"/>
<text x="316.6" y="350.7" class="k" font-size="12.2" textLength="115.6" lengthAdjust="spacingAndGlyphs">WT anti-CD3/CD28</text>
<rect x="306" y="359.4" width="7" height="7" fill="#fff" stroke="#000" stroke-width="1"/>
<text x="316.6" y="367.0" class="k" font-size="12.2" textLength="146.2" lengthAdjust="spacingAndGlyphs">CerS2 null Unstimulated</text>
<rect x="306" y="375.7" width="7" height="7" fill="#c0c0c0" stroke="#000" stroke-width="1"/>
<text x="316.6" y="383.3" class="k" font-size="12.2" textLength="156.3" lengthAdjust="spacingAndGlyphs">CerS2 null anti-CD3/CD28</text>
</svg>
</body></html>
